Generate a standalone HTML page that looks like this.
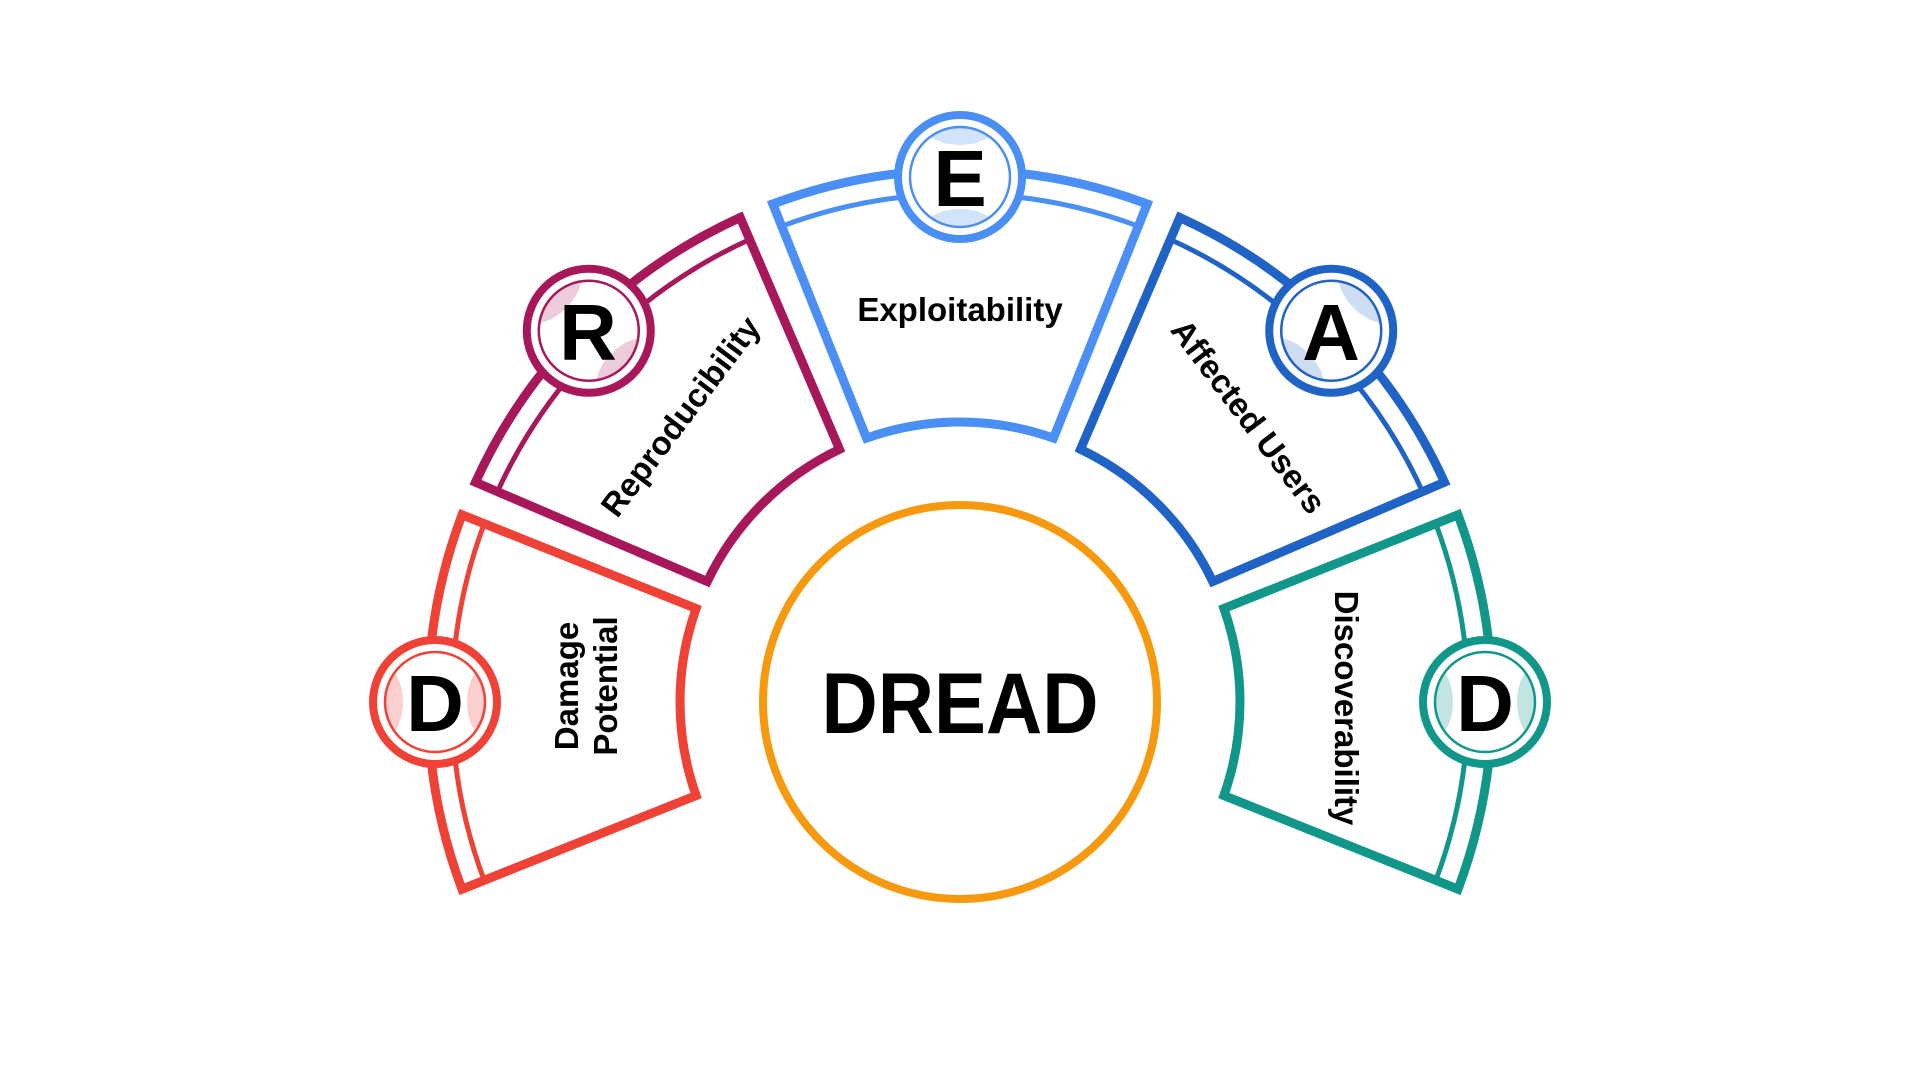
<!DOCTYPE html>
<html><head><meta charset="utf-8"><style>
html,body{margin:0;padding:0;background:#fff;}
svg{display:block;}
text{font-family:"Liberation Sans",sans-serif;font-weight:bold;fill:#000;}
</style></head><body>
<svg width="1920" height="1080" viewBox="0 0 1920 1080" xmlns="http://www.w3.org/2000/svg">
<defs>
  <clipPath id="ic"><circle cx="0" cy="-525" r="49"/></clipPath>
  <g id="seg">
    <path d="M -187.2 -498 A 532 532 0 0 1 187.2 -498 L 93.5 -263.9 A 280 280 0 0 0 -93.5 -263.9 Z" fill="none" stroke-width="9" stroke-linejoin="miter"/>
    <path d="M -178.3 -475.8 A 508 508 0 0 1 178.3 -475.8" fill="none" stroke-width="5"/>
    <circle cx="0" cy="-525" r="62" fill="#fff" stroke-width="8"/>
  </g>
</defs>

<!-- center circle -->
<circle cx="960" cy="702" r="197" fill="none" stroke="#f7990f" stroke-width="8"/>
<text x="960" y="733" font-size="86" text-anchor="middle" textLength="277" lengthAdjust="spacingAndGlyphs">DREAD</text>

<!-- segments -->
<g transform="translate(960,702) rotate(-90)" stroke="#ef4136">
  <use href="#seg"/>
  <g clip-path="url(#ic)" fill="#ef4136" fill-opacity="0.25" stroke="none">
    <ellipse cx="0" cy="-577" rx="36" ry="20"/><ellipse cx="0" cy="-473" rx="36" ry="20"/>
  </g>
  <circle cx="0" cy="-525" r="50" fill="none" stroke-width="2.5"/>
</g>
<g transform="translate(960,702) rotate(-45)" stroke="#a8175a">
  <use href="#seg"/>
  <g clip-path="url(#ic)" fill="#a8175a" fill-opacity="0.22" stroke="none">
    <ellipse cx="0" cy="-577" rx="36" ry="20"/><ellipse cx="0" cy="-473" rx="36" ry="20"/>
  </g>
  <circle cx="0" cy="-525" r="50" fill="none" stroke-width="2.5"/>
</g>
<g transform="translate(960,702) rotate(0)" stroke="#4a8ff5">
  <use href="#seg"/>
  <g clip-path="url(#ic)" fill="#4a8ff5" fill-opacity="0.25" stroke="none">
    <ellipse cx="0" cy="-577" rx="36" ry="20"/><ellipse cx="0" cy="-473" rx="36" ry="20"/>
  </g>
  <circle cx="0" cy="-525" r="50" fill="none" stroke-width="2.5"/>
</g>
<g transform="translate(960,702) rotate(45)" stroke="#1f63c6">
  <use href="#seg"/>
  <g clip-path="url(#ic)" fill="#1f63c6" fill-opacity="0.22" stroke="none">
    <ellipse cx="0" cy="-577" rx="36" ry="20"/><ellipse cx="0" cy="-473" rx="36" ry="20"/>
  </g>
  <circle cx="0" cy="-525" r="50" fill="none" stroke-width="2.5"/>
</g>
<g transform="translate(960,702) rotate(90)" stroke="#11978a">
  <use href="#seg"/>
  <g clip-path="url(#ic)" fill="#11978a" fill-opacity="0.25" stroke="none">
    <ellipse cx="0" cy="-577" rx="36" ry="20"/><ellipse cx="0" cy="-473" rx="36" ry="20"/>
  </g>
  <circle cx="0" cy="-525" r="50" fill="none" stroke-width="2.5"/>
</g>

<!-- letters -->
<g font-size="80" text-anchor="middle">
  <text x="435" y="731">D</text>
  <text x="588" y="360">R</text>
  <text x="960" y="206">E</text>
  <text x="1331" y="360">A</text>
  <text x="1485" y="731">D</text>
</g>

<!-- labels -->
<g font-size="33" text-anchor="middle">
  <text x="960" y="321">Exploitability</text>
  <text transform="translate(680,416) rotate(-53)" x="0" y="12">Reproducibility</text>
  <text transform="translate(1249,416) rotate(53)" x="0" y="12">Affected Users</text>
  <text transform="translate(1347,708) rotate(90)" x="0" y="12">Discoverability</text>
  <text transform="translate(566,686) rotate(-90)" x="0" y="12">Damage</text>
  <text transform="translate(605,686) rotate(-90)" x="0" y="12">Potential</text>
</g>
</svg>
</body></html>
